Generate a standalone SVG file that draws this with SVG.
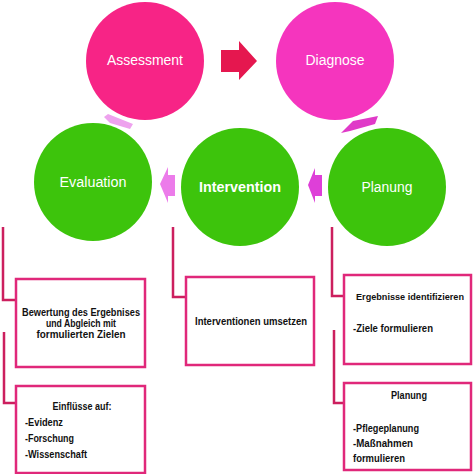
<svg xmlns="http://www.w3.org/2000/svg" width="474" height="474" viewBox="0 0 474 474">
<style>
.lbl{font-family:"Liberation Sans",Arial,sans-serif;font-size:14px;fill:#ffffff;text-anchor:middle;dominant-baseline:central}
.green{fill:#3dc40c}
.box{fill:#ffffff;stroke:#e0287a;stroke-width:2.5}
.conn{fill:none;stroke:#cc1f5e;stroke-width:2.5}
.t{font-family:"Liberation Sans",Arial,sans-serif;font-size:10.5px;font-weight:bold;fill:#111111}
.c{text-anchor:middle}
</style>
<rect width="474" height="474" fill="#ffffff"/>
<g id="connectors">
<polygon points="221,50 239,50 239,41 257,61 239,80 239,72 221,72" fill="#e5174f"/>
<polygon points="378,116 375,124 350,131 341,133 348,126 353,121" fill="#e03ac8"/>
<polygon points="104,117 108,114 133,124 130,129 110,123" fill="#eea2ee"/>
<polygon points="322,175 315,175 315,168 308,185 315,203 315,196 322,196" fill="#de3fd8"/>
<polygon points="175,175 168,175 168,167 160,184 168,203 168,196 175,196" fill="#ec7bea"/>
<polyline class="conn" points="3,227 3,300 16,300"/>
<polyline class="conn" points="4,332 4,403 16,403"/>
<polyline class="conn" points="173,227 173,297 186,297"/>
<polyline class="conn" points="332,227 332,296 344,296"/>
<polyline class="conn" points="334,330 334,403 344,403"/>
</g>
<g id="assessment">
<circle cx="145" cy="61" r="59" fill="#f72486"/>
<text class="lbl" x="145" y="60" textLength="76" lengthAdjust="spacingAndGlyphs">Assessment</text>
</g>
<g id="diagnose">
<circle cx="335" cy="61" r="59" fill="#f535be"/>
<text class="lbl" x="335" y="60" textLength="59" lengthAdjust="spacingAndGlyphs">Diagnose</text>
</g>
<g id="evaluation">
<circle class="green" cx="93" cy="182" r="59"/>
<text class="lbl" x="93" y="182" textLength="67" lengthAdjust="spacingAndGlyphs">Evaluation</text>
</g>
<g id="intervention">
<circle class="green" cx="240" cy="187" r="59"/>
<text class="lbl" x="240" y="187" font-weight="bold" textLength="82" lengthAdjust="spacingAndGlyphs">Intervention</text>
</g>
<g id="planung">
<circle class="green" cx="387" cy="187" r="59"/>
<text class="lbl" x="387" y="187" textLength="51" lengthAdjust="spacingAndGlyphs">Planung</text>
</g>
<g id="box-bewertung">
<rect class="box" x="16" y="279" width="129" height="88"/>
<text class="t c" x="81" y="316" textLength="118" lengthAdjust="spacingAndGlyphs">Bewertung des Ergebnises</text>
<text class="t c" x="81" y="327" textLength="70" lengthAdjust="spacingAndGlyphs">und Abgleich mit</text>
<text class="t c" x="81" y="338" textLength="89" lengthAdjust="spacingAndGlyphs">formulierten Zielen</text>
</g>
<g id="box-einfluesse">
<rect class="box" x="16" y="386" width="129" height="87"/>
<text class="t c" x="82" y="410" textLength="59" lengthAdjust="spacingAndGlyphs">Einflüsse auf:</text>
<text class="t" x="25" y="426" textLength="38" lengthAdjust="spacingAndGlyphs">-Evidenz</text>
<text class="t" x="25" y="442" textLength="49" lengthAdjust="spacingAndGlyphs">-Forschung</text>
<text class="t" x="25" y="458" textLength="62" lengthAdjust="spacingAndGlyphs">-Wissenschaft</text>
</g>
<g id="box-interventionen">
<rect class="box" x="186" y="277" width="128" height="88"/>
<text class="t c" x="251" y="325" textLength="112" lengthAdjust="spacingAndGlyphs">Interventionen umsetzen</text>
</g>
<g id="box-ergebnisse">
<rect class="box" x="344" y="275" width="127" height="89"/>
<text class="t" x="356" y="300" style="font-size:9.5px" textLength="108" lengthAdjust="spacingAndGlyphs">Ergebnisse identifizieren</text>
<text class="t" x="353" y="332" textLength="80" lengthAdjust="spacingAndGlyphs">-Ziele formulieren</text>
</g>
<g id="box-planung">
<rect class="box" x="344" y="383" width="127" height="87"/>
<text class="t c" x="409" y="399" textLength="36" lengthAdjust="spacingAndGlyphs">Planung</text>
<text class="t" x="353" y="432" textLength="66" lengthAdjust="spacingAndGlyphs">-Pflegeplanung</text>
<text class="t" x="353" y="447" textLength="60" lengthAdjust="spacingAndGlyphs">-Maßnahmen</text>
<text class="t" x="353" y="462" textLength="52" lengthAdjust="spacingAndGlyphs">formulieren</text>
</g>
</svg>
